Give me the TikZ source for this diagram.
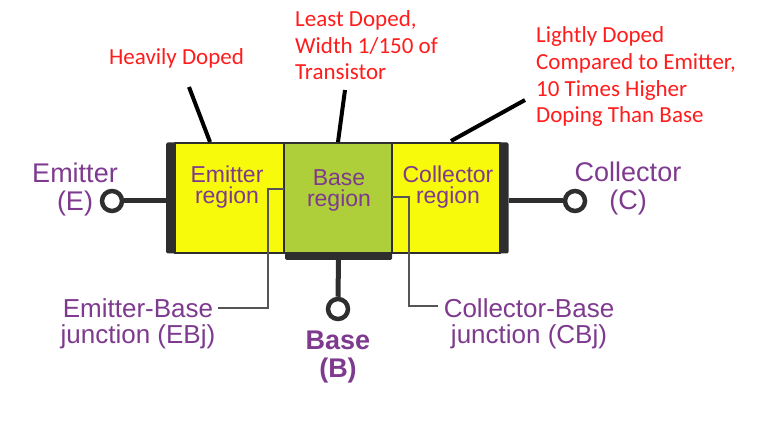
\documentclass[tikz,border=0pt]{standalone}
\usepackage{fontspec}
\setmainfont{Liberation Sans}
\newfontfamily\redfont{Carlito}
\definecolor{pur}{RGB}{126,58,142}
\definecolor{redc}{RGB}{255,28,28}
\definecolor{yel}{RGB}{247,250,11}
\definecolor{grn}{RGB}{174,206,58}
\definecolor{dk}{RGB}{46,46,46}
\definecolor{jl}{RGB}{85,85,85}
\tikzset{
  region/.style={draw=dk, line width=2pt, inner sep=0pt, outer sep=0pt},
  bar/.style={fill=dk, draw=none, inner sep=0pt, outer sep=0pt, rounded corners=1.5pt},
  term/.style={circle, draw=dk, fill=white, line width=4.5pt, minimum size=20pt, inner sep=0pt},
  wire/.style={draw=dk, line width=5pt},
  jline/.style={draw=jl, line width=1.5pt},
  pointer/.style={draw=black, line width=4pt},
  outer/.style={text=pur, font=\fontsize{27}{28.5}\selectfont, align=center, inner sep=0pt, anchor=base},
  inner/.style={text=pur, font=\fontsize{23}{21.5}\selectfont, align=center, inner sep=0pt, anchor=base},
  note/.style={text=redc, font=\redfont\fontsize{23}{26.8}\selectfont, align=left, inner sep=0pt, anchor=base west},
}
\begin{document}
\begin{tikzpicture}[x=1pt,y=-1pt]
\useasboundingbox (0,0) rectangle (768,446);
% regions
\node[region, fill=yel, minimum width=109pt, minimum height=110pt] (er) at (229.5,198) {};
\node[region, fill=grn, minimum width=108pt, minimum height=110pt] (br) at (338,198) {};
\node[region, fill=yel, minimum width=108pt, minimum height=110pt] (cr) at (446,198) {};
% bars
\node[bar, minimum width=9pt, minimum height=111pt] (lb) at (170.5,198) {};
\node[bar, minimum width=9pt, minimum height=111pt] (rb) at (504,198) {};
\node[bar, minimum width=107pt, minimum height=7pt] (bb) at (338.5,256.5) {};
% terminals
\node[term] (te) at (112,201) {};
\node[term] (tc) at (575,201) {};
\node[term] (tb) at (338,309) {};
\draw[wire] (te.east) -- (lb.west |- te.east);
\draw[wire] (tc.west) -- (rb.east |- tc.west);
\draw[wire] (tb.north) -- (bb.south);
% region texts
\node[inner] (ert) at (227,204) {Emitter\\region};
\node[inner] (brt) at (339,207) {Base\\region};
\node[inner] (crt) at (448,204) {Collector\\region};
% terminal labels
\node[outer] (el) at (75,211) {Emitter\\(E)};
\node[outer] (cl) at (628,210) {Collector\\(C)};
\node[outer, font=\bfseries\fontsize{27}{27.5}\selectfont] (bl) at (338,377) {Base\\(B)};
% junction labels
\node[outer, font=\fontsize{26}{26}\selectfont] (ebj) at (138,343) {Emitter-Base\\junction (EBj)};
\node[outer, font=\fontsize{26}{26}\selectfont] (cbj) at (529,343) {Collector-Base\\junction (CBj)};
\coordinate (eb1) at (284,189);
\coordinate (eb2) at (268,189);
\coordinate (eb3) at (268,308);
\coordinate (eb4) at (218,308);
\draw[jline] (eb1) -- (eb2) -- (eb3) -- (eb4);
\coordinate (cb1) at (392,197);
\coordinate (cb2) at (409,197);
\coordinate (cb3) at (409,306);
\coordinate (cb4) at (438,306);
\draw[jline] (cb1) -- (cb2) -- (cb3) -- (cb4);
% notes
\node[note, anchor=base] (n1) at (176.5,65) {Heavily Doped};
\node[note] (n2) at (295,80) {Least Doped,\\Width 1/150 of\\Transistor};
\node[note] (n3) at (536,123) {Lightly Doped\\Compared to Emitter,\\10 Times Higher\\Doping Than Base};
\coordinate (p1) at (189,87);
\coordinate (p2) at (345,90);
\coordinate (p3) at (525,100);
\draw[pointer] (p1) -- (210,142);
\draw[pointer] (p2) -- (338,142);
\draw[pointer] (p3) -- (451,141);
\end{tikzpicture}
\end{document}
